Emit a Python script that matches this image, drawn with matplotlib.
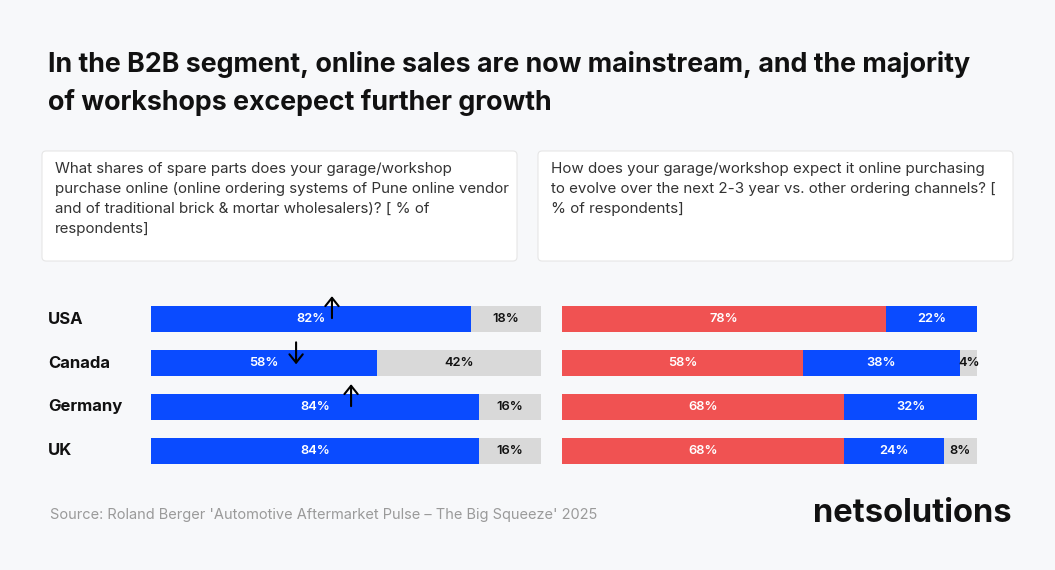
import matplotlib.pyplot as plt
from matplotlib.patches import FancyBboxPatch
from matplotlib.transforms import blended_transform_factory

countries = ["USA", "Canada", "Germany", "UK"]

# left panel: share purchased online vs offline
online_share = [82, 58, 84, 84]
offline_share = [18, 42, 16, 16]
trend = ["up", "down", "up", None]
trend_x = [46.4, 37.2, 51.3, None]

# right panel: expected evolution
increase = [78, 58, 68, 68]
stable = [22, 38, 32, 24]
decrease = [0, 4, 0, 8]

BLUE = "#0a4bff"
RED = "#f05252"
GRAY = "#d9d9d9"
BG = "#f7f8fa"

plt.rcParams['font.family'] = ['Inter', 'DejaVu Sans']

fig = plt.figure(figsize=(10.55, 5.70), dpi=100)
fig.patch.set_facecolor(BG)

# canvas axes in pixel coordinates for the text and boxes
cv = fig.add_axes([0, 0, 1, 1])
cv.set_xlim(0, 1055)
cv.set_ylim(570, 0)
cv.axis('off')

cv.text(48, 64, "In the B2B segment, online sales are now mainstream, and the majority",
        fontsize=19.3, fontweight='bold', color='#111111', va='center')
cv.text(48, 103, "of workshops excepect further growth",
        fontsize=19.3, fontweight='bold', color='#111111', va='center')

for x0, txt in [(42, "What shares of spare parts does your garage/workshop\n"
                    "purchase online (online ordering systems of Pune online vendor\n"
                    "and of traditional brick & mortar wholesalers)? [ % of\n"
                    "respondents]"),
                (538, "How does your garage/workshop expect it online purchasing\n"
                      "to evolve over the next 2-3 year vs. other ordering channels? [\n"
                      "% of respondents]")]:
    box = FancyBboxPatch((x0, 151), 475, 110, boxstyle="round,pad=0,rounding_size=4",
                         facecolor='white', edgecolor='#e6e6e6', linewidth=0.8)
    cv.add_patch(box)
    cv.text(x0 + 13, 162, txt, fontsize=10.9, color='#333333', va='top',
            linespacing=1.55)

cv.text(50, 515, "Source: Roland Berger 'Automotive Aftermarket Pulse \u2013 The Big Squeeze' 2025",
        fontsize=10.5, color='#9a9a9a', va='center')
cv.text(1012, 514, "netsolutions", fontsize=23.5, fontweight='bold', color='#111111',
        va='center', ha='right')

ypos = list(range(len(countries)))
bh = 26 / 44
ylims = (3.523, -0.523)
arrow_style = dict(arrowstyle='->,head_length=0.5,head_width=0.4', color='black',
                   lw=1.5, mutation_scale=12, shrinkA=0, shrinkB=0)

def setup(ax, xmax):
    ax.set_xlim(0, xmax)
    ax.set_ylim(*ylims)
    ax.axis('off')
    ax.patch.set_alpha(0)

def label(ax, left, width, val, color):
    if val > 0:
        ax.text(left + width / 2, y, f"{val}%", ha='center', va='center',
                fontsize=9.3, fontweight='semibold', color=color)

# left panel
ax1 = fig.add_axes([151 / 1055, 1 - 474 / 570, 390 / 1055, 178 / 570])
setup(ax1, 100)
ax1.barh(ypos, online_share, height=bh, color=BLUE)
ax1.barh(ypos, offline_share, left=online_share, height=bh, color=GRAY)
for y in ypos:
    label(ax1, 0, online_share[y], online_share[y], 'white')
    label(ax1, online_share[y], offline_share[y], offline_share[y], '#111111')
    if trend[y] == "up":
        ax1.annotate("", xy=(trend_x[y], y - 0.52), xytext=(trend_x[y], y - 0.02),
                     arrowprops=arrow_style, annotation_clip=False)
    elif trend[y] == "down":
        ax1.annotate("", xy=(trend_x[y], y + 0.03), xytext=(trend_x[y], y - 0.47),
                     arrowprops=arrow_style, annotation_clip=False)

# country labels
tr = blended_transform_factory(fig.transFigure, ax1.transData)
for y, c in zip(ypos, countries):
    ax1.text(48 / 1055, y, c, transform=tr, fontsize=12, fontweight='bold',
             color='#111111', va='center')

# right panel
ax2 = fig.add_axes([562 / 1055, 1 - 474 / 570, 415 / 1055, 178 / 570])
setup(ax2, 100)
left2 = [a + b for a, b in zip(increase, stable)]
ax2.barh(ypos, increase, height=bh, color=RED)
ax2.barh(ypos, stable, left=increase, height=bh, color=BLUE)
ax2.barh(ypos, decrease, left=left2, height=bh, color=GRAY)
for y in ypos:
    label(ax2, 0, increase[y], increase[y], 'white')
    label(ax2, increase[y], stable[y], stable[y], 'white')
    label(ax2, left2[y], decrease[y], decrease[y], '#111111')

fig.savefig("out.png", dpi=100, facecolor=BG)
